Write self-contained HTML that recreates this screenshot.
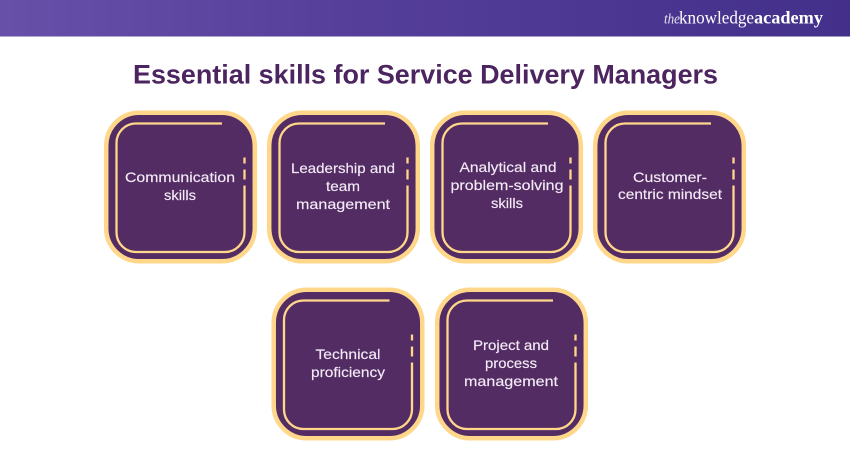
<!DOCTYPE html>
<html><head><meta charset="utf-8"><style>
html,body{margin:0;padding:0;background:#fff;width:850px;height:450px;overflow:hidden}
svg{display:block}
text{font-family:"Liberation Sans",sans-serif}
.l{font-size:14px;fill:#f3eaf6;text-anchor:middle;stroke:#f3eaf6;stroke-width:.15}
</style></head><body>
<svg width="850" height="450" viewBox="0 0 850 450" xmlns="http://www.w3.org/2000/svg">
<defs>
<linearGradient id="g" x1="0" x2="1" y1="0" y2="0"><stop offset="0" stop-color="#6650a8"/><stop offset=".4" stop-color="#553f9b"/><stop offset="1" stop-color="#43308a"/></linearGradient>
<g id="c">
<rect x="2.2" y="2.2" width="148.6" height="148.6" rx="33" fill="#532c63" stroke="#ffd78a" stroke-width="4.5"/>
<path d="M118 13H32A19.500 19.500 0 0 0 12.500 32.500V122A19.500 19.500 0 0 0 32 141.500H121A19.500 19.500 0 0 0 140.500 122V75M140.500 47V53M140.500 59V69" fill="none" stroke="#ffd78a" stroke-width="2.300"/>
</g>
</defs>
<rect width="850" height="36.500" fill="url(#g)"/>
<text x="664" y="23.500" font-size="15" font-style="italic" fill="#e8e2f2" style="font-family:'Liberation Serif',serif" textLength="16" lengthAdjust="spacingAndGlyphs">the</text>
<text x="679" y="23.500" font-size="18" fill="#fff" style="font-family:'Liberation Serif',serif" textLength="75" lengthAdjust="spacingAndGlyphs">knowledge</text>
<text x="754" y="23.500" font-size="18" font-weight="bold" fill="#fff" style="font-family:'Liberation Serif',serif" textLength="69" lengthAdjust="spacingAndGlyphs">academy</text>
<text x="133" y="83.500" font-size="27" font-weight="bold" fill="#4c2560" textLength="585" lengthAdjust="spacingAndGlyphs">Essential skills for Service Delivery Managers</text>
<use href="#c" x="104" y="110.500"/>
<use href="#c" x="267" y="110.500"/>
<use href="#c" x="430" y="110.500"/>
<use href="#c" x="593" y="110.500"/>
<use href="#c" x="271.500" y="287.500"/>
<use href="#c" x="435" y="287.500"/>
<g class="t">
<text class="l" x="180" y="182" textLength="110" lengthAdjust="spacingAndGlyphs">Communication</text>
<text class="l" x="180" y="200" textLength="32" lengthAdjust="spacingAndGlyphs">skills</text>
<text class="l" x="343" y="173" textLength="104" lengthAdjust="spacingAndGlyphs">Leadership and</text>
<text class="l" x="343" y="191" textLength="34" lengthAdjust="spacingAndGlyphs">team</text>
<text class="l" x="343" y="209" textLength="94" lengthAdjust="spacingAndGlyphs">management</text>
<text class="l" x="508" y="172" textLength="97" lengthAdjust="spacingAndGlyphs">Analytical and</text>
<text class="l" x="507" y="190" textLength="113" lengthAdjust="spacingAndGlyphs">problem-solving</text>
<text class="l" x="507" y="208" textLength="32" lengthAdjust="spacingAndGlyphs">skills</text>
<text class="l" x="670" y="182" textLength="74" lengthAdjust="spacingAndGlyphs">Customer-</text>
<text class="l" x="670" y="199" textLength="104" lengthAdjust="spacingAndGlyphs">centric mindset</text>
<text class="l" x="348" y="359" textLength="65" lengthAdjust="spacingAndGlyphs">Technical</text>
<text class="l" x="348" y="377" textLength="74" lengthAdjust="spacingAndGlyphs">proficiency</text>
<text class="l" x="511" y="350" textLength="76" lengthAdjust="spacingAndGlyphs">Project and</text>
<text class="l" x="511" y="368" textLength="52" lengthAdjust="spacingAndGlyphs">process</text>
<text class="l" x="511" y="386" textLength="94" lengthAdjust="spacingAndGlyphs">management</text>
</g>
</svg>
</body></html>
